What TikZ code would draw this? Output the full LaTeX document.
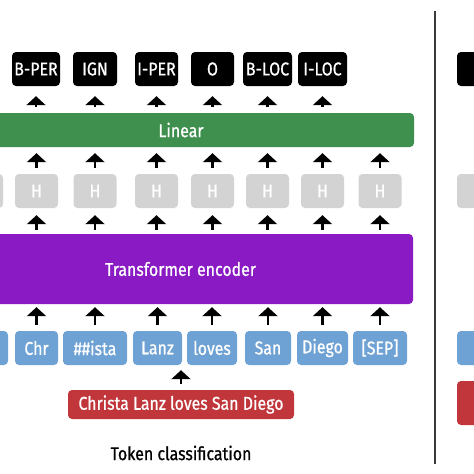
\documentclass[tikz,border=0pt]{standalone}
\usepackage{fontspec}
\setmainfont{Fira Sans}[FakeStretch=0.86, FakeBold=0.8]
\usetikzlibrary{arrows.meta}
\definecolor{hgray}{HTML}{D3D3D3}
\definecolor{tokblue}{HTML}{6FA2D4}
\definecolor{lingreen}{HTML}{3F8F4E}
\definecolor{encpurple}{HTML}{8A1BC4}
\definecolor{inred}{HTML}{C0363A}
\definecolor{sepgray}{HTML}{3A3A3A}
\tikzset{
  box/.style={rectangle, rounded corners=4pt, minimum height=34pt, inner sep=0pt, text=white, font=\fontsize{18.5}{21}\selectfont},
  lab/.style={box, fill=black},
  hid/.style={box, fill=hgray, minimum width=43pt},
  tok/.style={box, fill=tokblue},
  bar/.style={box, minimum height=34pt},
  arr/.style={-{Triangle[width=19pt,length=9pt]}, line width=2.2pt},
}
\begin{document}
\begin{tikzpicture}[x=1pt,y=-1pt]
\clip (0,0) rectangle (474,474);
% output labels
\node[lab, minimum width=48pt] (l1) at (36,69) {B-PER};
\node[lab, minimum width=44pt] (l2) at (95,69) {IGN};
\node[lab, minimum width=43pt] (l3) at (156.5,69) {I-PER};
\node[lab, minimum width=43pt] (l4) at (212.5,69) {O};
\node[lab, minimum width=49pt] (l5) at (267.5,69) {B-LOC};
\node[lab, minimum width=49pt] (l6) at (322.5,69) {I-LOC};
\node[lab, minimum width=44pt] (r1) at (479,69) {};
% linear
\node[bar, fill=lingreen, minimum width=466pt] (lin) at (181,130) {Linear};
% hidden states
\node[hid] (h0) at (-18.5,191) {};
\node[hid] (h1) at (36.5,191) {H};
\node[hid] (h2) at (95,191) {H};
\node[hid] (h3) at (156.5,191) {H};
\node[hid] (h4) at (212.5,191) {H};
\node[hid] (h5) at (267.5,191) {H};
\node[hid] (h6) at (322.5,191) {H};
\node[hid] (h7) at (380,191) {H};
\node[hid] (r2) at (478.5,191) {};
% encoder
\node[bar, fill=encpurple, minimum width=465pt, minimum height=70pt] (enc) at (180.5,269) {Transformer encoder};
% tokens
\node[tok, minimum width=44pt] (t0) at (-14,348) {};
\node[tok, minimum width=43pt] (t1) at (36.5,348) {Chr};
\node[tok, minimum width=64pt] (t2) at (95,348) {\#\#ista};
\node[tok, minimum width=49pt] (t3) at (157.5,348) {Lanz};
\node[tok, minimum width=50pt] (t4) at (212,348) {loves};
\node[tok, minimum width=46pt] (t5) at (268,348) {San};
\node[tok, minimum width=51pt] (t6) at (322.5,348) {Diego};
\node[tok, minimum width=54pt] (t7) at (380,348) {[SEP]};
\node[tok, minimum width=44pt] (r3) at (479,348) {};
% input text
\node[box, fill=inred, minimum width=226pt, minimum height=29pt] (inp) at (181,404.5) {Christa Lanz loves San Diego};
\node[box, fill=inred, minimum width=44pt, minimum height=44pt] (r4) at (479,403) {};
% caption
\node[font=\fontsize{18.5}{21}\selectfont, text=black] (cap) at (181,453) {Token classification};
% separator
\coordinate (s1) at (435,11);
\coordinate (s2) at (435,464);
\draw[sepgray, line width=1.5pt] (s1) -- (s2);
% arrows
\foreach \n in {1,...,6}
  \draw[arr, shorten <=6pt, shorten >=10pt] (lin.north -| l\n.south) -- (l\n.south);
\foreach \n in {1,...,7} {
  \draw[arr, shorten <=6pt, shorten >=6pt] (h\n.north) -- (h\n.north |- lin.south);
  \draw[arr, shorten <=4pt, shorten >=7pt] (enc.north -| h\n.south) -- (h\n.south);
  \draw[arr, shorten <=6pt, shorten >=3pt] (t\n.north) -- (t\n.north |- enc.south);
}
\draw[arr, shorten <=6pt, shorten >=5pt] (inp.north) -- (inp.north |- t3.south);
\end{tikzpicture}
\end{document}
